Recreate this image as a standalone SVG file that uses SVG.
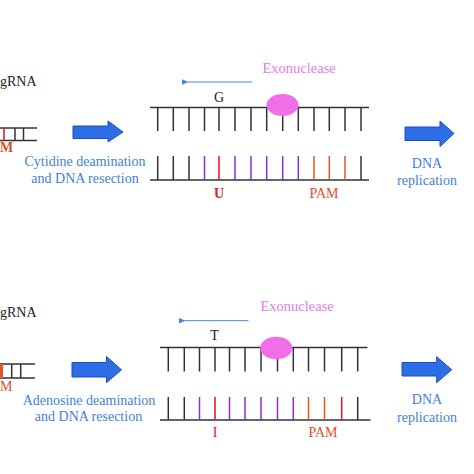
<svg xmlns="http://www.w3.org/2000/svg" width="474" height="474" viewBox="0 0 474 474">
<defs>
<style>
.t{font-family:"Liberation Serif","Times New Roman",serif;}
.blk{fill:#222;font-size:14px;}
.blu{fill:#3f7fd8;font-size:14px;}
.pink{fill:#e77de0;font-size:14.5px;}
.red{fill:#d8262e;font-size:14px;}
.ora{fill:#d9502a;font-size:14px;}
.ln{stroke:#333;stroke-width:1.6;fill:none;}
.k{stroke:#333;stroke-width:1.5;}
.p{stroke:#8a2fd0;stroke-width:1.5;}
.r{stroke:#e0202c;stroke-width:1.6;}
.o{stroke:#e0552a;stroke-width:1.5;}
.big{fill:#2d6ee6;stroke:#1b4fb8;stroke-width:1;}
.enz{fill:#f26ee8;}
.thin{stroke:#4a86e0;stroke-width:1;}
</style>
<marker id="ah" viewBox="0 0 10 10" refX="1" refY="5" markerWidth="7" markerHeight="7" orient="auto-start-reverse">
<path d="M10,1 L0,5 L10,9 Z" fill="#4a86e0"/>
</marker>
</defs>

<!-- Top panel -->
<g id="top-sgrna">
<text class="t blk" x="0" y="86">gRNA</text>
<line class="ln" x1="0" y1="128" x2="37" y2="128"/>
<line class="ln" x1="0" y1="140.5" x2="37" y2="140.5"/>
<line class="r" x1="4" y1="128" x2="4" y2="140.5"/>
<line class="k" x1="15" y1="128" x2="15" y2="140.5"/>
<line class="k" x1="23.5" y1="128" x2="23.5" y2="140.5"/>
<text class="t ora" x="0" y="152" font-weight="bold">M</text>
</g>

<g id="top-arrow1">
<path class="big" d="M73,126 L108,126 L108,121 L123,132 L108,142 L108,138.5 L73,138.5 Z"/>
<text class="t blu" x="85" y="166" text-anchor="middle">Cytidine deamination</text>
<text class="t blu" x="85" y="183" text-anchor="middle">and DNA resection</text>
</g>

<g id="top-dna">
<line class="ln" x1="150" y1="107.5" x2="369" y2="107.5"/>
<g class="k">
<line x1="157.7" y1="107.5" x2="157.7" y2="131"/>
<line x1="173.3" y1="107.5" x2="173.3" y2="131"/>
<line x1="189" y1="107.5" x2="189" y2="131"/>
<line x1="204.5" y1="107.5" x2="204.5" y2="131"/>
<line x1="219" y1="107.5" x2="219" y2="131"/>
<line x1="235" y1="107.5" x2="235" y2="131"/>
<line x1="251" y1="107.5" x2="251" y2="131"/>
<line x1="266.7" y1="107.5" x2="266.7" y2="131"/>
<line x1="282.7" y1="107.5" x2="282.7" y2="131"/>
<line x1="298.3" y1="107.5" x2="298.3" y2="131"/>
<line x1="314" y1="107.5" x2="314" y2="131"/>
<line x1="329.3" y1="107.5" x2="329.3" y2="131"/>
<line x1="345" y1="107.5" x2="345" y2="131"/>
<line x1="361" y1="107.5" x2="361" y2="131"/>
</g>
<ellipse class="enz" cx="282.5" cy="105" rx="16" ry="11"/>
<text class="t blk" x="219" y="102" text-anchor="middle" font-size="13">G</text>
<line class="ln" x1="150" y1="180" x2="369" y2="180"/>
<line class="k" x1="157.7" y1="156" x2="157.7" y2="180"/>
<line class="k" x1="173.3" y1="156" x2="173.3" y2="180"/>
<line class="k" x1="189" y1="156" x2="189" y2="180"/>
<line class="p" x1="204.5" y1="156" x2="204.5" y2="180"/>
<line class="r" x1="219" y1="156" x2="219" y2="180"/>
<line class="p" x1="235" y1="156" x2="235" y2="180"/>
<line class="p" x1="251" y1="156" x2="251" y2="180"/>
<line class="p" x1="266.7" y1="156" x2="266.7" y2="180"/>
<line class="p" x1="282.7" y1="156" x2="282.7" y2="180"/>
<line class="p" x1="298.3" y1="156" x2="298.3" y2="180"/>
<line class="o" x1="314" y1="156" x2="314" y2="180"/>
<line class="o" x1="329.3" y1="156" x2="329.3" y2="180"/>
<line class="o" x1="345" y1="156" x2="345" y2="180"/>
<line class="k" x1="361" y1="156" x2="361" y2="180"/>
<text class="t red" x="219" y="198" text-anchor="middle" font-weight="bold">U</text>
<text class="t ora" x="324" y="198" text-anchor="middle">PAM</text>
</g>

<g id="top-exo">
<text class="t pink" x="262.5" y="73">Exonuclease</text>
</g>

<g id="top-arrow2">
<path class="big" d="M405,127 L440,127 L440,121 L454,133.5 L440,146.5 L440,140.5 L405,140.5 Z"/>
<text class="t blu" x="427" y="168" text-anchor="middle">DNA</text>
<text class="t blu" x="427" y="185" text-anchor="middle">replication</text>
</g>

<!-- Bottom panel -->
<g id="bot-sgrna">
<text class="t blk" x="0" y="317">gRNA</text>
<line class="ln" x1="0" y1="364" x2="35" y2="364"/>
<line class="ln" x1="0" y1="378" x2="35" y2="378"/>
<line x1="1.5" y1="364" x2="1.5" y2="378" stroke="#e0552a" stroke-width="3"/>
<line class="k" x1="11.7" y1="364" x2="11.7" y2="378"/>
<line class="k" x1="20.7" y1="364" x2="20.7" y2="378"/>
<text class="t ora" x="0" y="391">M</text>
</g>

<g id="bot-arrow1">
<path class="big" d="M72,362.5 L106.5,362.5 L106.5,356.5 L121.5,369.8 L106.5,382.7 L106.5,377 L72,377 Z"/>
<text class="t blu" x="89" y="405" text-anchor="middle">Adenosine deamination</text>
<text class="t blu" x="88.5" y="421" text-anchor="middle">and DNA resection</text>
</g>

<g id="bot-dna">
<line class="ln" x1="160" y1="347.5" x2="367.5" y2="347.5"/>
<g class="k">
<line x1="168.3" y1="347.5" x2="168.3" y2="371.5"/>
<line x1="184.3" y1="347.5" x2="184.3" y2="371.5"/>
<line x1="199.5" y1="347.5" x2="199.5" y2="371.5"/>
<line x1="215" y1="347.5" x2="215" y2="371.5"/>
<line x1="229.5" y1="347.5" x2="229.5" y2="371.5"/>
<line x1="245" y1="347.5" x2="245" y2="371.5"/>
<line x1="261" y1="347.5" x2="261" y2="371.5"/>
<line x1="277.5" y1="347.5" x2="277.5" y2="371.5"/>
<line x1="293.3" y1="347.5" x2="293.3" y2="371.5"/>
<line x1="308.5" y1="347.5" x2="308.5" y2="371.5"/>
<line x1="324.5" y1="347.5" x2="324.5" y2="371.5"/>
<line x1="341.7" y1="347.5" x2="341.7" y2="371.5"/>
<line x1="357.7" y1="347.5" x2="357.7" y2="371.5"/>
</g>
<ellipse class="enz" cx="276.3" cy="348" rx="16" ry="11.3"/>
<text class="t blk" x="214.5" y="340" text-anchor="middle" font-size="13">T</text>
<line class="ln" x1="160" y1="420" x2="370.5" y2="420"/>
<line class="k" x1="168.3" y1="397" x2="168.3" y2="420"/>
<line class="k" x1="184.3" y1="397" x2="184.3" y2="420"/>
<line class="p" x1="199.5" y1="397" x2="199.5" y2="420"/>
<line class="r" x1="215" y1="397" x2="215" y2="420"/>
<line class="p" x1="229.5" y1="397" x2="229.5" y2="420"/>
<line class="p" x1="245" y1="397" x2="245" y2="420"/>
<line class="p" x1="261" y1="397" x2="261" y2="420"/>
<line class="p" x1="277.5" y1="397" x2="277.5" y2="420"/>
<line class="p" x1="293.3" y1="397" x2="293.3" y2="420"/>
<line class="o" x1="308.5" y1="397" x2="308.5" y2="420"/>
<line class="o" x1="324.5" y1="397" x2="324.5" y2="420"/>
<line class="r" x1="341.7" y1="397" x2="341.7" y2="420"/>
<line class="k" x1="357.7" y1="397" x2="357.7" y2="420"/>
<text class="t red" x="215" y="437" text-anchor="middle">I</text>
<text class="t ora" x="323" y="437" text-anchor="middle">PAM</text>
</g>

<g id="bot-exo">
<text class="t pink" x="260.5" y="311">Exonuclease</text>
</g>

<g id="bot-arrow2">
<path class="big" d="M402,362.5 L436.7,362.5 L436.7,356.7 L451.7,369.7 L436.7,382.7 L436.7,376 L402,376 Z"/>
<text class="t blu" x="427" y="404" text-anchor="middle">DNA</text>
<text class="t blu" x="427" y="421.5" text-anchor="middle">replication</text>
</g>

<g id="connectors">
<line class="thin" x1="252" y1="82" x2="188" y2="82" marker-end="url(#ah)"/>
<line class="thin" x1="248.5" y1="320.7" x2="185" y2="320.7" marker-end="url(#ah)"/>
</g>
</svg>
